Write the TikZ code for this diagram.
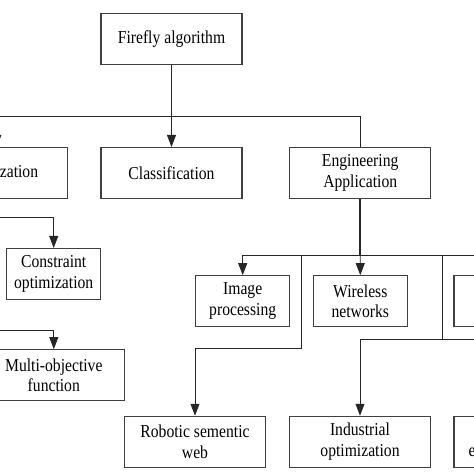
\documentclass[tikz,border=0pt]{standalone}
\usepackage{fontspec}
\setmainfont[FakeStretch=0.86]{Liberation Serif}
\usetikzlibrary{arrows.meta}

\begin{document}
\begin{tikzpicture}[x=1pt, y=-1pt,
    box/.style={draw=black!75, line width=1.1pt, align=center, minimum height=51pt,
      inner sep=2pt, font=\fontsize{18.2}{20.5}\selectfont},
    wide/.style={box, minimum width=141pt},
    narrow/.style={box, minimum width=94pt},
    link/.style={draw=black!85, line width=0.8pt},
    arr/.style={link, -{Triangle[length=12pt, width=9pt]}}]
  \useasboundingbox (0,0) rectangle (474,474);
  \clip (0,0) rectangle (474,474);
  % first level
  \node[wide] (fa) at (171.5,38.7) {Firefly algorithm};
  \node[wide] (opt) at (-3.2,173) {Optimization};
  \node[wide] (cls) at (171.5,173) {Classification};
  \node[wide] (eng) at (360.2,173) {Engineering\\Application};
  % optimization branch
  \node[narrow] (co) at (53.7,274) {Constraint\\optimization};
  \node[wide] (mo) at (53.8,375.2) {Multi-objective\\function};
  % engineering branch
  \node[narrow] (img) at (242.7,301.2) {Image\\processing};
  \node[narrow] (wn) at (360.3,301.2) {Wireless\\networks};
  \node[wide] (ant) at (524.5,301.2) {Antenna\\design};
  \node[wide] (rsw) at (195,441.8) {Robotic sementic\\web};
  \node[wide] (io) at (360,441.8) {Industrial\\optimization};
  \node[wide] (eed) at (524.5,441.8) {Economic\\emission dispatch};
  % junctions
  \coordinate (top) at (171.5,116);
  \coordinate (cj) at (53.7,217.3);
  \coordinate (mj) at (53.8,330.7);
  \coordinate (bus) at (360.2,255);
  \coordinate (ra) at (301,255);
  \coordinate (rb) at (301,348.3);
  \coordinate (ia) at (442.5,255);
  \coordinate (ib) at (442.5,339.3);
  % connectors
  \draw[arr] (fa) -- (cls);
  \draw[link] (opt.north |- top) -- (eng.north |- top);
  \draw[arr] (opt.north |- top) -- (opt.north);
  \draw[link] (eng.north |- top) -- (eng.north);
  \draw[arr] (opt.south) |- (cj) -- (co.north);
  \draw[arr] (opt.south) |- (mj) -- (mo.north);
  \draw[link, line width=1.6pt] (eng.south) -- (bus);
  \draw[link] (img.north |- bus) -- (ant.north |- bus);
  \draw[arr] (img.north |- bus) -- (img.north);
  \draw[arr] (bus) -- (wn.north);
  \draw[arr] (ant.north |- bus) -- (ant.north);
  \draw[arr] (ra) -- (rb) -| (rsw.north);
  \draw[link] (ia) -- (ib);
  \draw[arr] (ib) -| (io.north);
  \draw[arr] (ib) -| (eed.north);
\end{tikzpicture}
\end{document}
